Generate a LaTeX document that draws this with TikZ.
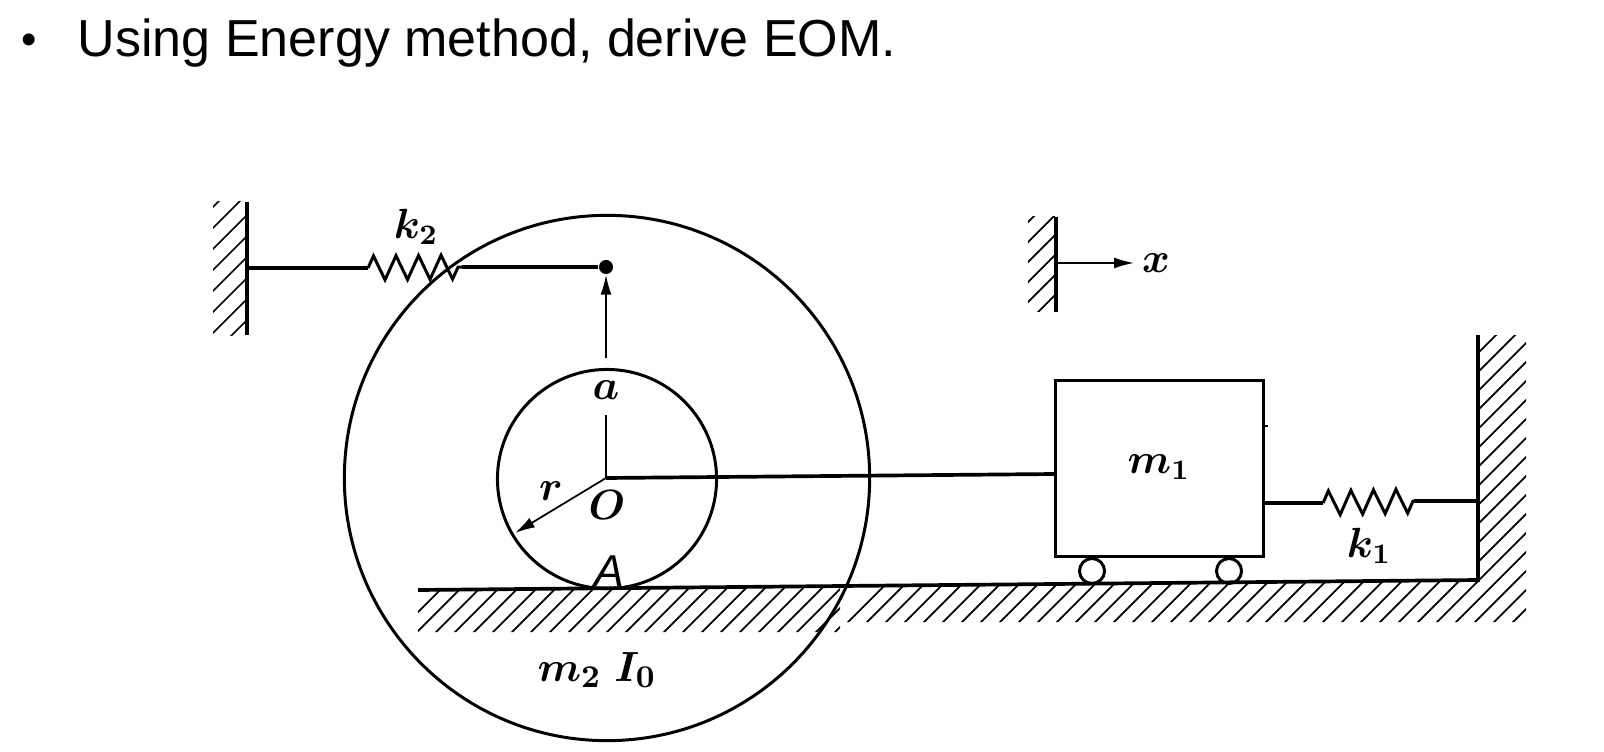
\documentclass[tikz,border=0pt]{standalone}
\usepackage{fontspec}
\setmainfont{Liberation Sans}
\usetikzlibrary{decorations.pathmorphing,arrows.meta}
\tikzset{
  hatchline/.style={line width=0.5pt},
  body/.style={line width=0.85pt},
  rod/.style={line width=1.05pt},
  thin rod/.style={line width=0.5pt},
  spring/.style={line width=0.85pt,decorate,decoration={zigzag,segment length=0.225cm,amplitude=0.12cm}},
  lab/.style={inner sep=0pt,font=\fontsize{11.5}{13}\selectfont\boldmath}
}
\begin{document}
\begin{tikzpicture}[x=0.01cm,y=-0.01cm]
\useasboundingbox (0,0) rectangle (1604,752);
\node[anchor=base west,inner sep=0pt,font=\fontsize{12.5}{17}\selectfont] (bullet) at (21,55) {•};
\node[anchor=base west,inner sep=0pt,font=\fontsize{14.8}{17}\selectfont] (title) at (77,57) {Using Energy method, derive EOM.};
% hatching
\begin{scope}
\clip (418,590)--(840,586)--(840,632)--(418,632)--cycle;
\foreach \c in {1030,1049,...,1500} \draw[hatchline] ({\c-640},640)--({\c-570},570);
\end{scope}
\begin{scope}
\clip (842,586)--(1478,580)--(1478,335)--(1526,335)--(1526,622)--(842,622)--cycle;
\foreach \c in {1470,1489,...,2160} \draw[hatchline] ({\c-640},640)--({\c-320},320);
\end{scope}
\begin{scope}
\clip (213,202) rectangle (247,335);
\foreach \c in {420,441,...,590} \draw[hatchline] ({\c-340},340)--({\c-190},190);
\end{scope}
\begin{scope}
\clip (1028,217) rectangle (1056,312);
\foreach \c in {1250,1270,...,1370} \draw[hatchline] ({\c-320},320)--({\c-210},210);
\end{scope}
% discs
\coordinate (O) at (606,478);
\node[circle,draw,body,minimum size=5.25cm,inner sep=0pt] (outer) at (607,478) {};
\node[circle,draw,body,minimum size=2.19cm,inner sep=0pt] (inner) at (607,479) {};
% ground and walls
\coordinate (gl) at (418,590);
\coordinate (corner) at (1478,580);
\coordinate (wtop) at (1478,335);
\draw[rod] (gl)--(corner)--(wtop);
\coordinate (wl1) at (247,202);
\coordinate (wl2) at (247,335);
\draw[rod] (wl1)--(wl2);
\coordinate (wx1) at (1056,217);
\coordinate (wx2) at (1056,312);
\draw[rod] (wx1)--(wx2);
% cart
\node[draw,body,minimum width=2.07cm,minimum height=1.76cm,inner sep=0pt] (cart) at (1159.5,468.5) {};
\draw[body] (1263,426)--(1268,426);
\node[circle,draw,body,minimum size=0.25cm,inner sep=0pt] (wheelL) at (1092,571) {};
\node[circle,draw,body,minimum size=0.25cm,inner sep=0pt] (wheelR) at (1229,571) {};
% spring k2 and the point on the disc
\coordinate (wk2) at (247,268);
\coordinate (k2a) at (368,268);
\coordinate (k2b) at (462,267);
\node[circle,fill=black,inner sep=0pt,minimum size=0.14cm] (dot) at (606,267) {};
\draw[rod] (wk2)--(k2a);
\draw[spring] (k2a)--(k2b);
\draw[rod] (k2b)--(dot);
% spring k1
\coordinate (c1) at (1263,503);
\coordinate (k1a) at (1323,503);
\coordinate (k1b) at (1414,501);
\coordinate (w1) at (1478,501);
\draw[rod] (c1)--(k1a);
\draw[spring] (k1a)--(k1b);
\draw[rod] (k1b)--(w1);
% shaft
\draw[rod] (O)--(cart.west |- 0,474);
% dimensions
\coordinate (a1) at (606,358);
\coordinate (a2) at (606,415);
\coordinate (rend) at (515,533);
\coordinate (xend) at (1134,263);
\coordinate (x0) at (1056,263);
\draw[thin rod,-{Latex[length=0.2cm,width=0.11cm]}] (a1)--(dot);
\draw[thin rod] (a2)--(O);
\draw[thin rod,-{Latex[length=0.2cm,width=0.11cm]}] (O)--(rend);
\draw[thin rod,-{Latex[length=0.2cm,width=0.11cm]}] (x0)--(xend);
% labels
\node[lab] (la) at (606,390) {$a$};
\node[lab] (lr) at (551,491) {$r$};
\node[lab] (lo) at (607,505) {$O$};
\node[anchor=base,inner sep=0pt,fill=white,font=\fontsize{12.7}{15}\selectfont\itshape] (lA) at (609,586) {A};
\node[lab] (lk2) at (416,227) {$k_2$};
\node[lab] (lk1) at (1369,546) {$k_1$};
\node[lab] (lm1) at (1159,467) {$m_1$};
\node[lab] (lx) at (1156,263) {$x$};
\node[lab,font=\fontsize{13}{15}\selectfont\boldmath] (lm2) at (597,670) {$m_2\ I_0$};
\end{tikzpicture}
\end{document}
